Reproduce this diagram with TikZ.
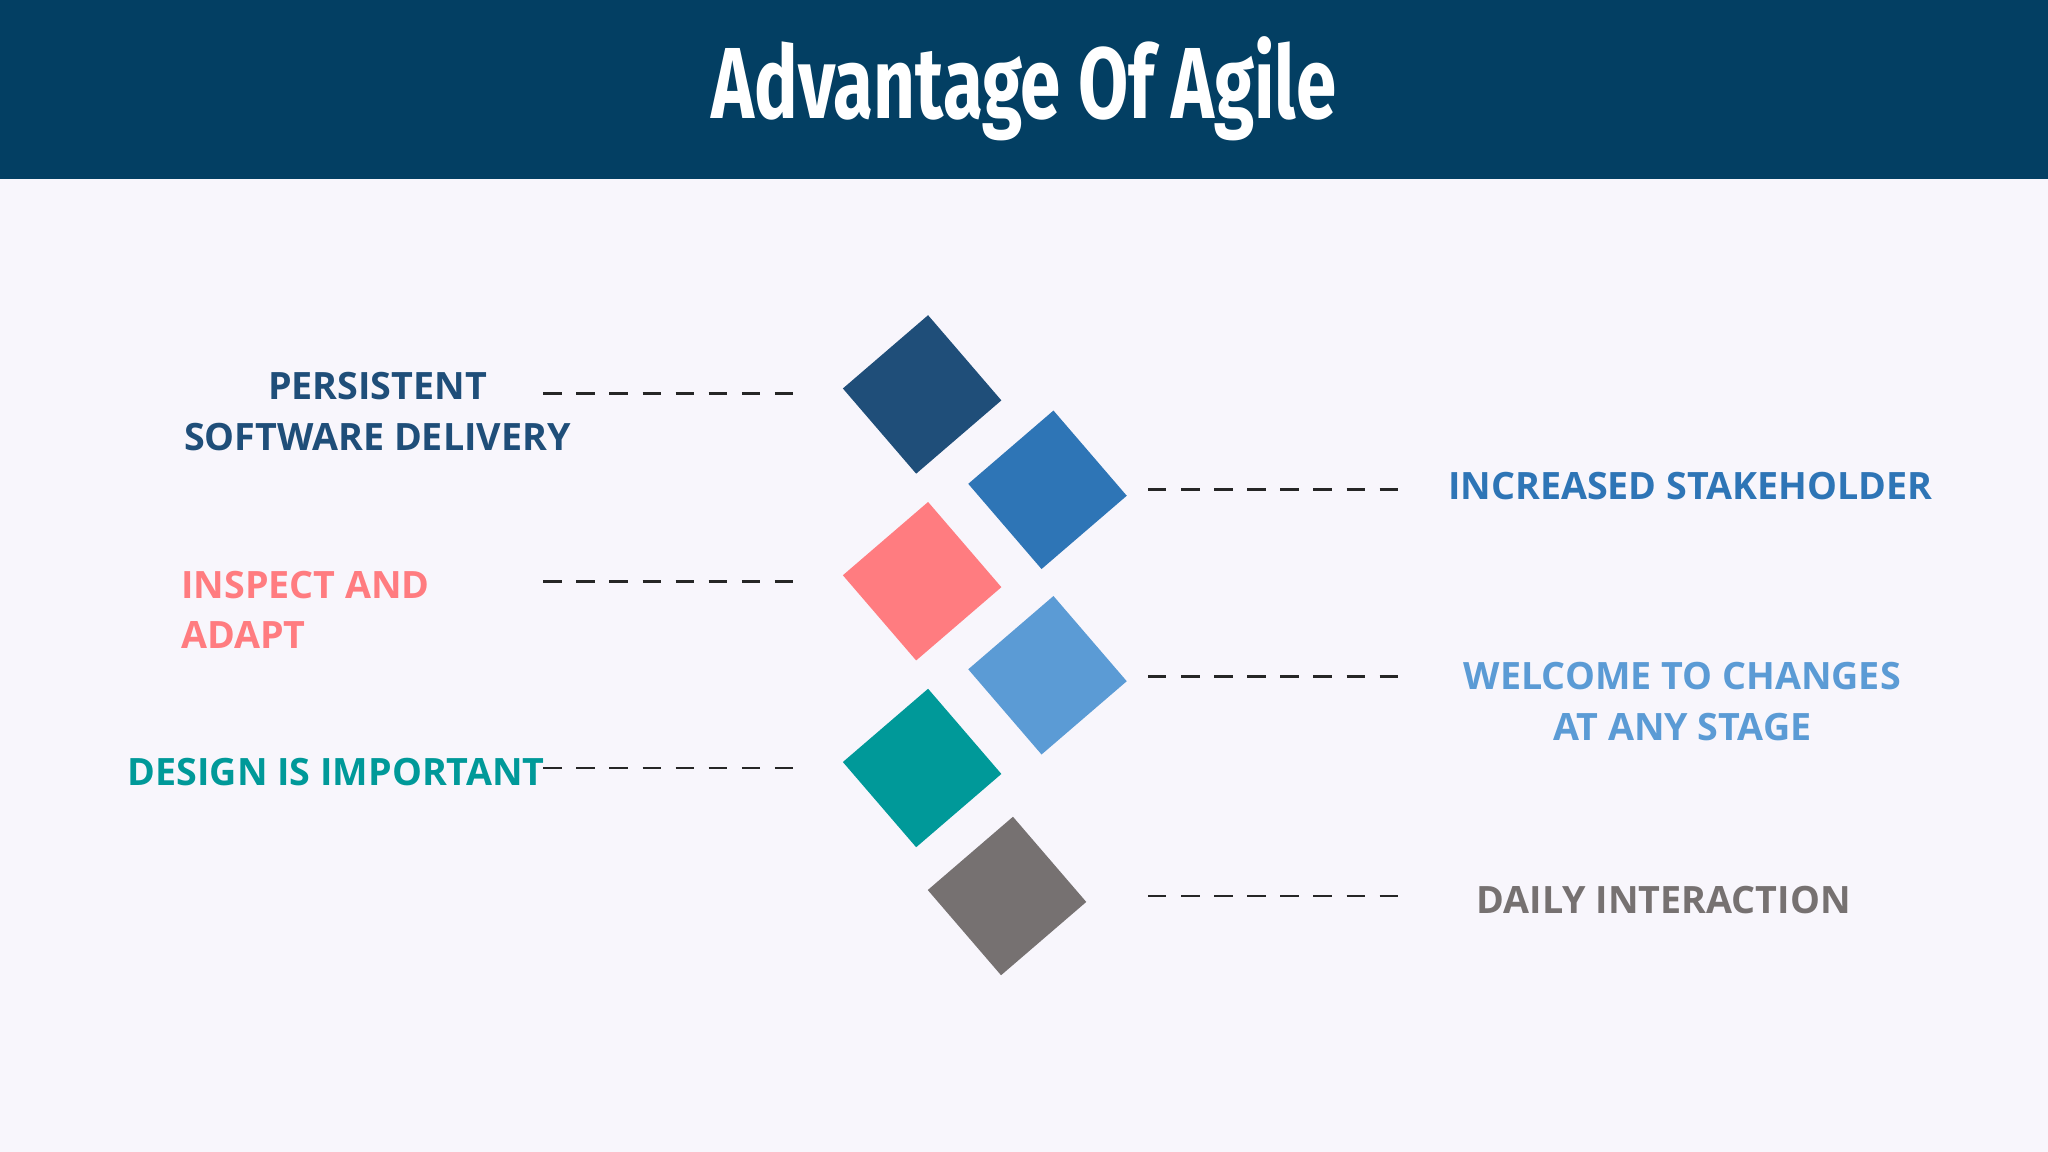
\documentclass[tikz,border=0pt]{standalone}
\usepackage{fontspec}
\setmainfont{Open Sans}
\newfontfamily\titlefont{Fira Sans}
\definecolor{bg}{HTML}{F8F6FC}
\definecolor{banner}{HTML}{033F63}
\definecolor{cdark}{HTML}{1F4E79}
\definecolor{cblue}{HTML}{2E75B6}
\definecolor{cpink}{HTML}{FF7C80}
\definecolor{clight}{HTML}{5B9BD5}
\definecolor{cteal}{HTML}{009999}
\definecolor{cgray}{HTML}{767171}
\begin{document}
\begin{tikzpicture}[x=0.01cm,y=-0.01cm,
  dia/.style={fill=#1,minimum size=0.86cm,inner sep=0,rotate=40.7,draw=none},
  lbl/.style={text=#1,font=\fontsize{8.2}{11}\selectfont\bfseries,inner sep=0},
  dl/.style={dashed,dash pattern=on 4pt off 3.2pt,line width=0.6pt,black!85}]
\useasboundingbox (0,0) rectangle (1568,882);
\fill[bg] (0,0) rectangle (1568,882);
\fill[banner] (0,0) rectangle (1568,137);
\node[text=white,font=\titlefont\fontsize{22}{26}\selectfont\bfseries,xscale=0.72] (title) at (784,68) {Advantage Of Agile};
\node[dia=cdark] (d1) at (706,302) {};
\node[dia=cblue] (d2) at (802,375) {};
\node[dia=cpink] (d3) at (706,445) {};
\node[dia=clight] (d4) at (802,517) {};
\node[dia=cteal] (d5) at (706,588) {};
\node[dia=cgray] (d6) at (771,686) {};
\node[lbl=cdark,align=center] (t1) at (289,315) {PERSISTENT\\SOFTWARE DELIVERY};
\node[lbl=cpink,align=left,anchor=west] (t3) at (138,467) {INSPECT AND\\ADAPT};
\node[lbl=cteal,anchor=west] (t5) at (97,591) {DESIGN IS IMPORTANT};
\node[lbl=cblue,anchor=west] (t2) at (1108,372) {INCREASED STAKEHOLDER};
\node[lbl=clight,align=center] (t4) at (1288,537) {WELCOME TO CHANGES\\AT ANY STAGE};
\node[lbl=cgray,anchor=west] (t6) at (1130,689) {DAILY INTERACTION};
\foreach \y/\n in {301/1,445/3,588/5}{
  \coordinate (la\n) at (416,\y); \coordinate (lb\n) at (618,\y);
  \draw[dl] (la\n) -- (lb\n);}
\foreach \y/\n in {375/2,518/4,686/6}{
  \coordinate (ra\n) at (879,\y); \coordinate (rb\n) at (1081,\y);
  \draw[dl] (ra\n) -- (rb\n);}
\end{tikzpicture}
\end{document}
